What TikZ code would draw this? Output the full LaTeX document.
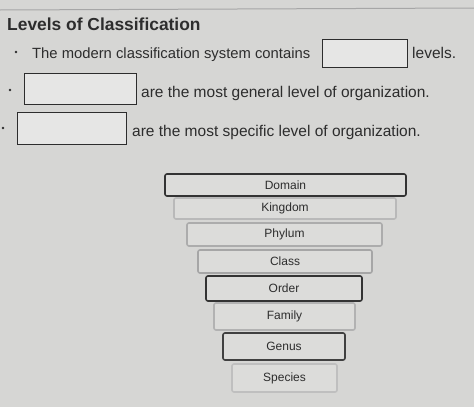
\documentclass[tikz,border=0pt]{standalone}
\usepackage{fontspec}
\setmainfont{Liberation Sans}
\usetikzlibrary{positioning}

\definecolor{paper}{RGB}{214,214,212}
\definecolor{ink}{RGB}{45,45,45}

\tikzset{
    blank/.style={draw=ink, line width=1pt, fill=paper!60!white, minimum width=#1, minimum height=28pt, inner sep=0pt},
    line/.style={anchor=base west, inner sep=0pt, text=ink, font=\fontsize{15.5}{18}\selectfont},
    level/.style={rounded corners=2pt, line width=1.6pt, fill=paper!85!white, text=ink, inner sep=0pt, font=\fontsize{12}{14}\selectfont}
}

\begin{document}
\begin{tikzpicture}[x=1pt, y=-1pt]

    % Page
    \useasboundingbox (0,0) rectangle (474,407);
    \fill[paper] (0,0) rectangle (474,407);
    \draw[gray!70, line width=1pt] (0,10) -- (474,8);

    % Title
    \node[anchor=base west, inner sep=0pt, text=ink, font=\fontsize{17.4}{20}\bfseries] (title) at (7,30) {Levels of Classification};

    % Statements with blanks
    \node[line, font=\fontsize{14.8}{18}\selectfont] (s1) at (32,58) {The modern classification system contains};
    \node[blank=85pt] (b1) at (364.5,53) {};
    \node[line] (l1) at (412,58) {levels.};
    \fill[ink] (16,52) circle (1.3pt);

    \node[blank=112pt, minimum height=31pt] (b2) at (80,88.5) {};
    \node[line] (s2) at (141,97) {are the most general level of organization.};
    \fill[ink] (10,90) circle (1.3pt);

    \node[blank=109pt, minimum height=32pt] (b3) at (71.5,128) {};
    \node[line] (s3) at (132,136) {are the most specific level of organization.};
    \fill[ink] (3,128) circle (1.3pt);

    % Hierarchy of levels
    \foreach \name/\l/\r/\t/\b/\col in {
        Domain/165/406/174/196/black!80,
        Kingdom/174/396/198/219/gray!55,
        Phylum/187/382/223/246/gray!65,
        Class/198/372/250/273/gray!70,
        Order/206/362/276/301/black!80,
        Family/214/355/303/330/gray!60,
        Genus/223/345/333/360/black!75,
        Species/232/337/364/392/gray!50}
        \node[level, draw=\col, minimum width={(\r-\l)*1pt}, minimum height={(\b-\t)*1pt}] (\name) at ({(\l+\r)/2},{(\t+\b)/2}) {\name};

\end{tikzpicture}
\end{document}
